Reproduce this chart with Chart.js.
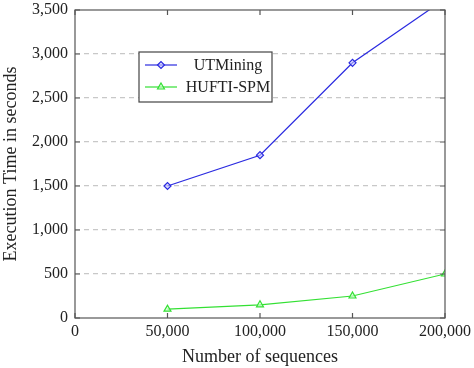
<!DOCTYPE html>
<html>
<head>
<meta charset="utf-8">
<script src="https://cdn.jsdelivr.net/npm/chart.js@4"></script>
<style>
  html, body { margin: 0; padding: 0; background: #fff; }
  #wrap { width: 474px; height: 368px; }
</style>
</head>
<body>
<div id="wrap"><canvas id="chart" width="474" height="368"></canvas></div>
<script>
// values
const sequences = [50000, 100000, 150000, 200000];
const utMining = [1500, 1850, 2900, 3625];
const huftiSpm = [100, 150, 250, 500];
const seriesNames = ['UTMining', 'HUFTI-SPM'];
const xTitle = 'Number of sequences';
const yTitle = 'Execution Time in seconds';

const FONT = "'Liberation Serif', serif";
const INK = '#222';

// box round the plot + little tick marks pointing inwards
const frame = {
    id: 'frame',
    afterDatasetsDraw(chart) {
        const {ctx, chartArea: a, scales} = chart;
        ctx.save();
        ctx.strokeStyle = '#555';
        ctx.lineWidth = 1.2;
        ctx.beginPath();
        scales.x.ticks.forEach(t => {
            const px = scales.x.getPixelForValue(t.value);
            ctx.moveTo(px, a.bottom); ctx.lineTo(px, a.bottom - 5);
            ctx.moveTo(px, a.top); ctx.lineTo(px, a.top + 5);
        });
        scales.y.ticks.forEach(t => {
            const py = scales.y.getPixelForValue(t.value);
            ctx.moveTo(a.left, py); ctx.lineTo(a.left + 5, py);
            ctx.moveTo(a.right, py); ctx.lineTo(a.right - 5, py);
        });
        ctx.stroke();
        ctx.strokeRect(a.left, a.top, a.right - a.left, a.bottom - a.top);
        ctx.restore();
    }
};

// pgfplots-like legend box inside the plot
const boxLegend = {
    id: 'boxLegend',
    afterDatasetsDraw(chart) {
        const ctx = chart.ctx;
        const x0 = 139, y0 = 52, w = 133, h = 50;
        ctx.save();
        ctx.fillStyle = '#fff';
        ctx.fillRect(x0, y0, w, h);
        ctx.strokeStyle = '#444';
        ctx.lineWidth = 1.2;
        ctx.strokeRect(x0, y0, w, h);
        chart.data.datasets.forEach((ds, i) => {
            const y = y0 + 13 + i * 22;
            ctx.strokeStyle = ds.borderColor;
            ctx.lineWidth = ds.borderWidth;
            ctx.beginPath();
            ctx.moveTo(x0 + 6, y); ctx.lineTo(x0 + 38, y);
            ctx.stroke();
            ctx.fillStyle = ds.pointBackgroundColor;
            Chart.helpers.drawPoint(ctx, {
                pointStyle: ds.pointStyle, radius: ds.pointRadius,
                borderWidth: ds.borderWidth, rotation: 0
            }, x0 + 22, y);
            ctx.fillStyle = INK;
            ctx.font = '16px ' + FONT;
            ctx.textAlign = 'center';
            ctx.textBaseline = 'middle';
            ctx.fillText(ds.label, x0 + 89, y + 1);
        });
        ctx.restore();
    }
};

new Chart(document.getElementById('chart'), {
    type: 'line',
    data: {
        datasets: [
            {
                label: seriesNames[0],
                data: sequences.map((x, i) => ({x, y: utMining[i]})),
                borderColor: '#2a2ae0',
                pointBackgroundColor: 'rgba(200,200,255,0.6)',
                borderWidth: 1.2,
                pointStyle: 'rectRot',
                pointRadius: 3.5
            },
            {
                label: seriesNames[1],
                data: sequences.map((x, i) => ({x, y: huftiSpm[i]})),
                borderColor: '#33e033',
                pointBackgroundColor: 'rgba(200,255,200,0.6)',
                borderWidth: 1.2,
                pointStyle: 'triangle',
                pointRadius: 4
            }
        ]
    },
    options: {
        responsive: false,
        animation: false,
        layout: { padding: { top: 10, right: 29, left: 0, bottom: 0 } },
        elements: { line: { tension: 0 } },
        plugins: { legend: { display: false }, tooltip: { enabled: false } },
        scales: {
            x: {
                type: 'linear',
                min: 0, max: 200000,
                grid: { display: false, drawTicks: false },
                border: { display: false },
                ticks: {
                    stepSize: 50000, padding: 4, color: INK, maxRotation: 0,
                    font: { family: FONT, size: 16 },
                    callback: v => v.toLocaleString('en-US')
                },
                title: {
                    display: true, text: xTitle, color: INK,
                    font: { family: FONT, size: 18 }, padding: { top: 6, bottom: 0 }
                },
                afterFit: s => { s.height = 50; s.paddingLeft = 0; s.paddingRight = 0; }
            },
            y: {
                min: 0, max: 3500,
                grid: {
                    drawTicks: false, lineWidth: 1.2,
                    color: c => (c.tick.value === 0 || c.tick.value === 3500) ? 'rgba(0,0,0,0)' : '#c8c8c8'
                },
                border: { display: false, dash: [5, 4] },
                ticks: {
                    stepSize: 500, padding: 7, color: INK,
                    font: { family: FONT, size: 16 },
                    callback: v => v.toLocaleString('en-US')
                },
                title: {
                    display: true, text: yTitle, color: INK,
                    font: { family: FONT, size: 18 }, padding: { top: 0, bottom: 0 }
                },
                afterFit: s => { s.width = 75; s.paddingTop = 0; s.paddingBottom = 0; }
            }
        }
    },
    plugins: [frame, boxLegend]
});
</script>
</body>
</html>
